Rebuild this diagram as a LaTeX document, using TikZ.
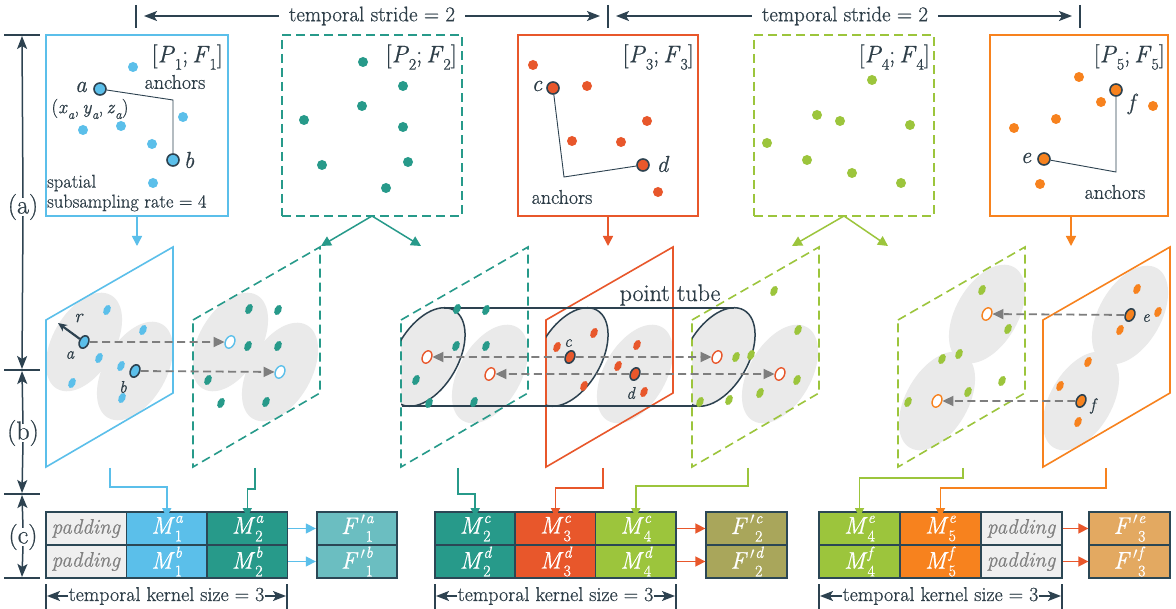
\documentclass[tikz,border=0pt]{standalone}
\usepackage[no-math]{fontspec}
\setmainfont{Latin Modern Roman}[FakeBold=0.7]
\usetikzlibrary{arrows.meta,shapes.geometric,calc}
\definecolor{cblue}{HTML}{5BBFEA}
\definecolor{cteal}{HTML}{279A8A}
\definecolor{cred}{HTML}{E8572B}
\definecolor{cgreen}{HTML}{9CC53C}
\definecolor{corange}{HTML}{F7821E}
\definecolor{dk}{HTML}{2D4250}
\definecolor{txt}{HTML}{2E3E48}
\definecolor{gr}{HTML}{7E7E7E}
\definecolor{discc}{HTML}{EAEAEA}
\definecolor{padc}{HTML}{EFEFEF}
\definecolor{fa}{HTML}{6BBEC1}
\definecolor{fb}{HTML}{A9A65B}
\definecolor{fc}{HTML}{E3A961}
\definecolor{cellb}{HTML}{2B4755}
\newcommand\fs[1]{\fontsize{#1}{#1}\selectfont}
% base with superscript and subscript: size, base, sup, sub
\newcommand\supsubx[4]{\textit{#2}\rlap{\raisebox{0.45em}{\fs{#1}\textit{#3}}}\raisebox{-0.32em}{\fs{#1}#4}}
% base with subscript only
\newcommand\subx[3]{\textit{#2}\raisebox{-0.3em}{\fs{#1}#3}}
\newcommand\subxi[3]{\textit{#2}\raisebox{-0.3em}{\fs{#1}\textit{#3}}}
\newcommand\bd[3]{\fill[#1] (#2,#3) circle[x radius=3.4, y radius=5.4, rotate=-25];}
\newcommand\dsc[2]{\fill[discc] (#1,#2) circle[x radius=31, y radius=54, rotate=-30];}
\newcommand\tubeell[2]{\draw[dk, line width=1.5pt] (#1,#2) circle[x radius=31, y radius=54, rotate=-30];}
\newcommand\plane[2]{\draw[#2] (#1,320) -- ++(127,-73) -- ++(0,146) -- ++(-127,74) -- cycle;}
\tikzset{
  lbl/.style={text=txt, inner sep=0pt, font=\fs{18}},
  topbox/.style={minimum height=181pt, inner sep=0pt, outer sep=0pt, line width=2pt},
  dsh/.style={dash pattern=on 9pt off 5pt},
  pl/.style={line width=1.6pt},
  carrow/.style={line width=1.5pt, -{Triangle[length=10pt,width=10pt]}},
  garrow/.style={draw=gr, line width=1.8pt, dash pattern=on 8pt off 4.5pt, -{Triangle[length=11pt,width=10pt]}},
  dimarrow/.style={draw=dk, line width=1.5pt, -{Stealth[length=13pt,width=10pt,inset=3pt]}},
  tick/.style={draw=dk, line width=1.4pt},
  anc/.style={circle, draw=dk, line width=1.6pt, minimum size=12pt, inner sep=0pt},
  banc/.style={ellipse, draw=dk, line width=1.6pt, minimum width=9pt, minimum height=13pt, inner sep=0pt, rotate=-25},
  opn/.style={ellipse, fill=white, line width=1.4pt, minimum width=9pt, minimum height=13pt, inner sep=0pt, rotate=-25},
  cell/.style={draw=cellb, line width=1.8pt, minimum width=80.5pt, minimum height=33pt, inner sep=0pt, text=white, font=\fs{24}},
  pad/.style={cell, fill=padc, text=black!50, font=\fs{21}},
  conn/.style={line width=1.5pt, -{Triangle[length=9pt,width=9pt]}},
}
\begin{document}
\begin{tikzpicture}[x=1pt,y=-1pt]
\useasboundingbox (0,0) rectangle (1176,609);
\fill[white] (0,0) rectangle (1176,609);

% ---------- top dimension: temporal stride ----------
\node[lbl,font=\fs{21}] (ts1) at (372,16) {temporal stride = 2};
\node[lbl,font=\fs{21}] (ts2) at (845,16) {temporal stride = 2};
\coordinate (k1) at (136,16); \coordinate (k2) at (608,16); \coordinate (k3) at (1080,16);
\draw[tick] (136,5) -- (136,28);
\draw[tick] (608,5) -- (608,28);
\draw[tick] (1080,5) -- (1080,28);
\draw[dimarrow] ([xshift=-10pt]ts1.west) -- ([xshift=8pt]k1);
\draw[dimarrow] ([xshift=10pt]ts1.east) -- ([xshift=-8pt]k2);
\draw[dimarrow] ([xshift=-10pt]ts2.west) -- ([xshift=8pt]k2);
\draw[dimarrow] ([xshift=10pt]ts2.east) -- ([xshift=-8pt]k3);

% ---------- left dimension ----------
\draw[tick] (4,35) -- (40,35);
\draw[tick] (4,370) -- (40,370);
\draw[tick] (4,494) -- (40,494);
\draw[tick] (4,578) -- (40,578);
\node[lbl,font=\fs{26}] (la) at (23,207) {(a)};
\node[lbl,font=\fs{26}] (lb) at (23,433) {(b)};
\node[lbl,font=\fs{26}] (lc) at (23,537) {(c)};
\draw[dimarrow] ([yshift=-4pt]la.north) -- (22,36);
\draw[dimarrow] ([yshift=4pt]la.south) -- (22,369);
\draw[dimarrow] ([yshift=-4pt]lb.north) -- (22,371);
\draw[dimarrow] ([yshift=4pt]lb.south) -- (22,493);
\draw[dimarrow] ([yshift=-4pt]lc.north) -- (22,495);
\draw[dimarrow] ([yshift=4pt]lc.south) -- (22,577);

% ---------- row (a): frames ----------
\node[topbox, draw=cblue, minimum width=182pt] (B1) at (137,125.5) {};
\node[topbox, draw=cteal, dsh, minimum width=180pt] (B2) at (372,125.5) {};
\node[topbox, draw=cred, minimum width=180pt] (B3) at (608,125.5) {};
\node[topbox, draw=cgreen, dsh, minimum width=180pt] (B4) at (844,125.5) {};
\node[topbox, draw=corange, minimum width=178pt] (B5) at (1079,125.5) {};

\node[lbl,font=\fs{24},anchor=east] (pf1) at (223,57) {[\subx{16}{P}{1};\,\subx{16}{F}{1}]};
\node[lbl,font=\fs{24},anchor=east] (pf2) at (457,57) {[\subx{16}{P}{2};\,\subx{16}{F}{2}]};
\node[lbl,font=\fs{24},anchor=east] (pf3) at (694,57) {[\subx{16}{P}{3};\,\subx{16}{F}{3}]};
\node[lbl,font=\fs{24},anchor=east] (pf4) at (930,57) {[\subx{16}{P}{4};\,\subx{16}{F}{4}]};
\node[lbl,font=\fs{24},anchor=east] (pf5) at (1165,57) {[\subx{16}{P}{5};\,\subx{16}{F}{5}]};

% box 1
\foreach \p in {(133,67),(183,117),(83,130),(121,126),(152,144),(153,183)} \fill[cblue] \p circle[radius=5];
\node[anc, fill=cblue] (Aa) at (100,89) {};
\node[anc, fill=cblue] (Ab) at (173,160) {};
\coordinate (abend) at (173,100);
\draw[dk, line width=0.9pt] (Aa) -- (abend) -- (Ab);
\node[lbl,font=\fs{20}] (anch1) at (175,82) {anchors};
\node[lbl,font=\fs{23}] (la1) at (81,87) {\textit{a}};
\node[lbl,font=\fs{19}] (xyz) at (90,109) {(\subxi{13}{x}{a},\,\subxi{13}{y}{a},\,\subxi{13}{z}{a})};
\node[lbl,font=\fs{23}] (lb1) at (189,160) {\textit{b}};
\node[lbl,font=\fs{18.5},anchor=west] (sp1) at (47,183) {spatial};
\node[lbl,font=\fs{18.5},anchor=west] (sp2) at (47,203) {subsampling rate = 4};

% box 2
\foreach \p in {(363,62),(403,86),(362,106),(304,120),(403,127),(322,165),(408,162),(386,188)} \fill[cteal] \p circle[radius=5];

% box 3
\foreach \p in {(533,65),(572,141),(587,86),(647,121),(621,142),(658,192)} \fill[cred] \p circle[radius=5];
\node[anc, fill=cred] (Ac) at (553,88) {};
\node[anc, fill=cred] (Ad) at (643,165) {};
\coordinate (cbend) at (564,177);
\draw[dk, line width=0.9pt] (Ac) -- (cbend) -- (Ad);
\node[lbl,font=\fs{23}] (lc1) at (537,86) {\textit{c}};
\node[lbl,font=\fs{23}] (ld1) at (663,164) {\textit{d}};
\node[lbl,font=\fs{20}] (anch3) at (562,197) {anchors};

% box 4
\foreach \p in {(872,80),(817,115),(840,121),(767,143),(807,160),(852,173),(910,125),(901,183)} \fill[cgreen] \p circle[radius=5];

% box 5
\foreach \p in {(1079,77),(1101,102),(1153,106),(1056,119),(1014,128),(1040,184)} \fill[corange] \p circle[radius=5];
\node[anc, fill=corange] (Ae) at (1044,159) {};
\node[anc, fill=corange] (Af) at (1116,90) {};
\coordinate (ebend) at (1116,172);
\draw[dk, line width=0.9pt] (Ae) -- (ebend) -- (Af);
\node[lbl,font=\fs{23}] (le1) at (1026,158) {\textit{e}};
\node[lbl,font=\fs{23}] (lf1) at (1133,104) {\textit{f}};
\node[lbl,font=\fs{20}] (anch5) at (1115,192) {anchors};

% arrows from (a) to (b)
\coordinate (t1) at (137,246);
\coordinate (t2l) at (321,246); \coordinate (t2r) at (421,246);
\coordinate (t3) at (608,246);
\coordinate (t4l) at (792,246); \coordinate (t4r) at (888,246);
\coordinate (t5) at (1071,246);
\draw[carrow, cblue] (B1.south) -- (t1);
\draw[carrow, cteal] (B2.south) -- (t2l);
\draw[carrow, cteal] (B2.south) -- (t2r);
\draw[carrow, cred] (B3.south) -- (t3);
\draw[carrow, cgreen] (B4.south) -- (t4l);
\draw[carrow, cgreen] (B4.south) -- (t4r);
\draw[carrow, corange] ([xshift=-8pt]B5.south) -- (t5);

% ---------- row (b): discs ----------
\begin{scope}\clip (46,0) rectangle (190,609); \dsc{84}{342}\dsc{135}{371}\end{scope}
\begin{scope}\clip (193,0) rectangle (330,609); \dsc{230}{342}\dsc{280}{372}\end{scope}
\begin{scope}\clip (401,0) rectangle (540,609); \dsc{427}{357}\dsc{490}{374}\end{scope}
\begin{scope}\clip (546,0) rectangle (690,609); \dsc{570}{357}\dsc{635}{374}\end{scope}
\begin{scope}\clip (692,0) rectangle (830,609); \dsc{717}{357}\dsc{780}{374}\end{scope}
\begin{scope}\clip (898,0) rectangle (1040,609); \dsc{987}{314}\dsc{937}{401}\end{scope}
\begin{scope}\clip (1043,0) rectangle (1176,609); \dsc{1130}{315}\dsc{1081}{401}\end{scope}

% planes
\plane{46}{cblue,pl}
\plane{193}{cteal,pl,dsh}
\plane{401}{cteal,pl,dsh}
\plane{546}{cred,pl}
\plane{692}{cgreen,pl,dsh}
\plane{898}{cgreen,pl,dsh}
\plane{1043}{corange,pl}

% tube
\begin{scope}\clip (401,0) rectangle (540,609); \tubeell{427}{357}\end{scope}
\begin{scope}\clip (546,0) rectangle (690,609); \tubeell{570}{357}\end{scope}
\begin{scope}\clip (692,0) rectangle (830,609); \tubeell{717}{357}\end{scope}
\coordinate (tubetl) at (444,308); \coordinate (tubetr) at (734,308);
\coordinate (tubebl) at (402,406); \coordinate (tubebr) at (700,406);
\draw[dk, line width=1.5pt] (tubetl) -- (tubetr);
\draw[dk, line width=1.5pt] (tubebl) -- (tubebr);
\node[lbl,font=\fs{24}] (ptube) at (670,295) {point tube};

% plane dots
\foreach \x/\y in {107/310,143/330,99/358,121/366,72/383,122/398} {\bd{cblue}{\x}{\y}}
\foreach \x/\y in {249/309,278/310,248/346,278/346,208/380,221/403,266/402} {\bd{cteal}{\x}{\y}}
\foreach \x/\y in {457/309,486/310,456/346,486/346,416/380,429/403,474/402} {\bd{cteal}{\x}{\y}}
\foreach \x/\y in {557/347,594/333,637/345,618/366,584/386,644/392} {\bd{cred}{\x}{\y}}
\foreach \x/\y in {774/291,736/357,751/355,700/402,729/400,760/393,798/330,797/380} {\bd{cgreen}{\x}{\y}}
\foreach \x/\y in {982/290,1008/329,942/359,959/354,908/402,968/392,1002/381} {\bd{cgreen}{\x}{\y}}
\foreach \x/\y in {1137/289,1158/312,1120/330,1088/362,1060/386,1078/422} {\bd{corange}{\x}{\y}}

% anchors and targets in (b)
\node[banc, fill=cblue] (ba) at (84,342) {};
\node[banc, fill=cblue] (bb) at (135,371) {};
\node[banc, fill=cred] (bc) at (570,357) {};
\node[banc, fill=cred] (bdd) at (635,374) {};
\node[banc, fill=corange] (be) at (1130,315) {};
\node[banc, fill=corange] (bf) at (1081,401) {};
\node[opn, draw=cblue] (oa) at (230,342) {};
\node[opn, draw=cblue] (ob) at (280,372) {};
\node[opn, draw=cred] (oc1) at (427,357) {};
\node[opn, draw=cred] (od1) at (490,374) {};
\node[opn, draw=cred] (oc2) at (717,357) {};
\node[opn, draw=cred] (od2) at (780,374) {};
\node[opn, draw=corange] (oe) at (987,314) {};
\node[opn, draw=corange] (of) at (937,401) {};

\draw[garrow] (ba) -- (oa);
\draw[garrow] (bb) -- (ob);
\draw[garrow] (bc) -- (oc1);
\draw[garrow] (bc) -- (oc2);
\draw[garrow] (bdd) -- (od1);
\draw[garrow] (bdd) -- (od2);
\draw[garrow] (be) -- (oe);
\draw[garrow] (bf) -- (of);

\coordinate (rtip) at (58,323);
\draw[dk, line width=2.2pt, -{Stealth[length=9pt,width=8pt]}] (ba) -- (rtip);
\node[lbl,font=\fs{19}] (lr) at (79,318) {\textit{r}};
\node[lbl,font=\fs{17}] (la2) at (70,355) {\textit{a}};
\node[lbl,font=\fs{17}] (lb2) at (123,387) {\textit{b}};
\node[lbl,font=\fs{17}] (lc2) at (568,343) {\textit{c}};
\node[lbl,font=\fs{17}] (ld2) at (631,393) {\textit{d}};
\node[lbl,font=\fs{17}] (le2) at (1146,318) {\textit{e}};
\node[lbl,font=\fs{17}] (lf2) at (1094,406) {\textit{f}};

% ---------- row (c): tables ----------
% table 1
\node[pad] (P1a) at (86.25,528.5) {\textit{padding}};
\node[pad] (P1b) at (86.25,561.5) {\textit{padding}};
\node[cell, fill=cblue] (M1a) at (166.75,528.5) {\supsubx{16}{M}{a}{1}};
\node[cell, fill=cblue] (M1b) at (166.75,561.5) {\supsubx{16}{M}{b}{1}};
\node[cell, fill=cteal] (M2a) at (247.25,528.5) {\supsubx{16}{M}{a}{2}};
\node[cell, fill=cteal] (M2b) at (247.25,561.5) {\supsubx{16}{M}{b}{2}};
\node[cell, fill=fa] (F1a) at (357,528.5) {\supsubx{16}{F\,$'$}{a}{1}};
\node[cell, fill=fa] (F1b) at (357,561.5) {\supsubx{16}{F\,$'$}{b}{1}};
\draw[carrow, cblue] (M2a.east) -- (F1a.west);
\draw[carrow, cblue] (M2b.east) -- (F1b.west);
% table 2
\node[cell, fill=cteal] (M2c) at (475.2,528.5) {\supsubx{16}{M}{c}{2}};
\node[cell, fill=cteal] (M2d) at (475.2,561.5) {\supsubx{16}{M}{d}{2}};
\node[cell, fill=cred] (M3c) at (555.5,528.5) {\supsubx{16}{M}{c}{3}};
\node[cell, fill=cred] (M3d) at (555.5,561.5) {\supsubx{16}{M}{d}{3}};
\node[cell, fill=cgreen] (M4c) at (635.8,528.5) {\supsubx{16}{M}{c}{4}};
\node[cell, fill=cgreen] (M4d) at (635.8,561.5) {\supsubx{16}{M}{d}{4}};
\node[cell, fill=fb] (F2c) at (746.5,528.5) {\supsubx{16}{F\,$'$}{c}{2}};
\node[cell, fill=fb] (F2d) at (746.5,561.5) {\supsubx{16}{F\,$'$}{d}{2}};
\draw[carrow, cred] (M4c.east) -- (F2c.west);
\draw[carrow, cred] (M4d.east) -- (F2d.west);
% table 3
\node[cell, fill=cgreen] (M4e) at (859.5,528.5) {\supsubx{16}{M}{e}{4}};
\node[cell, fill=cgreen] (M4f) at (859.5,561.5) {\supsubx{16}{M}{f}{4}};
\node[cell, fill=corange] (M5e) at (940.5,528.5) {\supsubx{16}{M}{e}{5}};
\node[cell, fill=corange] (M5f) at (940.5,561.5) {\supsubx{16}{M}{f}{5}};
\node[pad] (P3e) at (1021.5,528.5) {\textit{padding}};
\node[pad] (P3f) at (1021.5,561.5) {\textit{padding}};
\node[cell, fill=fc] (F3e) at (1129.5,528.5) {\supsubx{16}{F\,$'$}{e}{3}};
\node[cell, fill=fc] (F3f) at (1129.5,561.5) {\supsubx{16}{F\,$'$}{f}{3}};
\draw[carrow, cred] (P3e.east) -- (F3e.west);
\draw[carrow, cred] (P3f.east) -- (F3f.west);

% connectors from planes to tables
\draw[conn, cblue] (110,468) -- (110,487) -| ([yshift=-6pt]M1a.north);
\draw[conn, cteal] (255,468) -- (255,489) -| ([yshift=-6pt]M2a.north);
\draw[conn, cteal] (458,468) -- (458,494) -| ([yshift=-6pt]M2c.north);
\draw[conn, cred] (603,468) -- (603,488) -| ([yshift=-6pt]M3c.north);
\draw[conn, cgreen] (748,468) -- (748,486) -| ([yshift=-6pt]M4c.north);
\draw[conn, cgreen] (963,468) -- (963,478) -| ([yshift=-6pt]M4e.north);
\draw[conn, corange] (1106,468) -- (1106,488) -| ([yshift=-6pt]M5e.north);

% kernel size dimensions
\foreach \l/\r/\n in {46/287/1,435/676/2,819/1062/3} {
  \draw[tick] (\l,584) -- (\l,609);
  \draw[tick] (\r,584) -- (\r,609);
  \node[lbl,font=\fs{20}] (ks\n) at ({(\l+\r)/2},596) {temporal kernel size = 3};
  \draw[dimarrow] (ks\n.west) -- (\l+1,596);
  \draw[dimarrow] (ks\n.east) -- (\r-1,596);
}
\end{tikzpicture}
\end{document}
